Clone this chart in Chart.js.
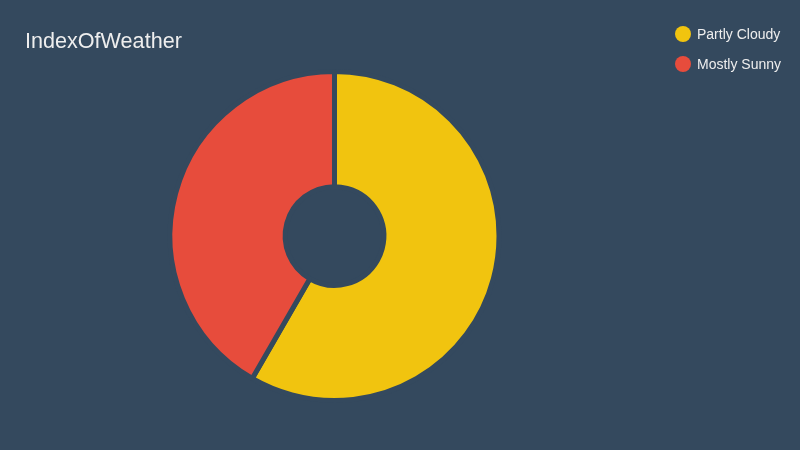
<!DOCTYPE html>
<html>
<head>
<meta charset="utf-8">
<script src="https://cdn.jsdelivr.net/npm/chart.js@4/dist/chart.umd.min.js"></script>
<style>
  html, body { margin: 0; padding: 0; background: #34495e; }
  #wrap { width: 800px; height: 450px; position: relative; }
</style>
</head>
<body>
<div id="wrap"><canvas id="weather-chart"></canvas></div>
<script>
var chartTitle = "IndexOfWeather";
var weatherLabels = ["Partly Cloudy", "Mostly Sunny"];
var weatherCounts = [7, 5];
var weatherColors = ["#f1c40f", "#e74c3c"];
var bgColor = "#34495e";
var textColor = "#eeeeee";

// title + legend painted straight onto the canvas
var sideText = {
    id: 'sideText',
    afterDraw: function (chart) {
        var ctx = chart.ctx;
        ctx.save();
        ctx.fillStyle = textColor;
        ctx.textBaseline = 'alphabetic';
        ctx.font = '21.6px "Liberation Sans", Arial, sans-serif';
        ctx.fillText(chartTitle, 25, 48);

        ctx.font = '14px "Liberation Sans", Arial, sans-serif';
        ctx.textBaseline = 'middle';
        chart.data.labels.forEach(function (lbl, i) {
            var y = 34 + i * 30;
            ctx.beginPath();
            ctx.arc(683, y, 8, 0, Math.PI * 2);
            ctx.fillStyle = chart.data.datasets[0].backgroundColor[i];
            ctx.fill();
            ctx.fillStyle = textColor;
            ctx.fillText(lbl, 697, y + 1);
        });
        ctx.restore();
    }
};

var ctx = document.getElementById("weather-chart").getContext("2d");
var weatherChart = new Chart(ctx, {
    type: 'doughnut',
    data: {
        labels: weatherLabels,
        datasets: [{
            data: weatherCounts,
            backgroundColor: weatherColors,
            borderColor: bgColor,
            borderWidth: 5,
            hoverOffset: 0
        }]
    },
    options: {
        responsive: true,
        maintainAspectRatio: false,
        animation: false,
        cutout: '30%',
        layout: {
            padding: { top: 69, bottom: 47, left: 167.5, right: 298.5 }
        },
        plugins: {
            legend: { display: false },
            title: { display: false },
            tooltip: { enabled: false }
        }
    },
    plugins: [sideText]
});
</script>
</body>
</html>
